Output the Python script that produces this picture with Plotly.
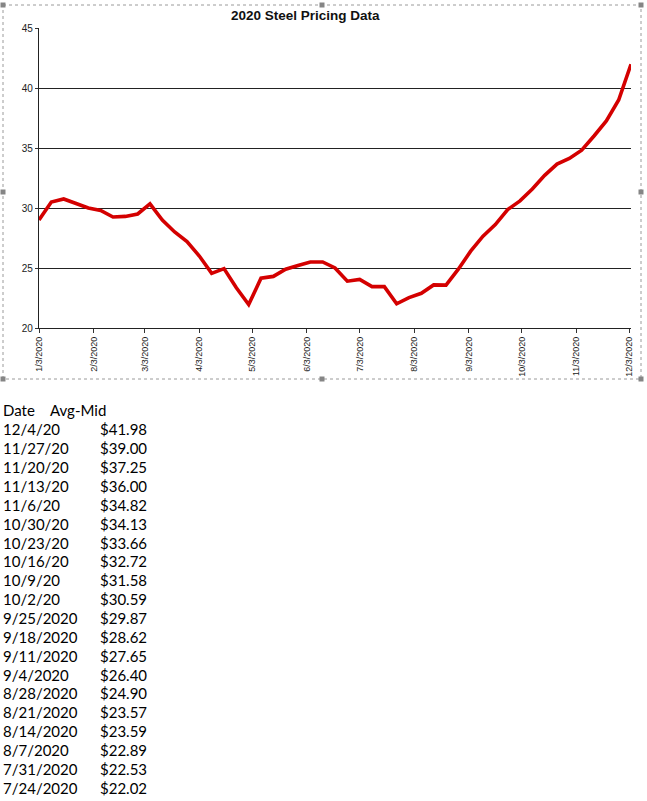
import pandas as pd
import plotly.graph_objs as go

# weekly average mid price, fridays from 1/3/2020 to 12/4/2020
prices = [29.0, 30.5, 30.75, 30.4, 30.0, 29.8, 29.25, 29.3, 29.5, 30.35,
          29.0, 28.0, 27.2, 26.0, 24.55, 24.95, 23.35, 21.95, 24.15, 24.3,
          24.9, 25.2, 25.5, 25.5, 25.0, 23.9, 24.05, 23.45, 23.45, 22.02,
          22.53, 22.89, 23.59, 23.57, 24.90, 26.40, 27.65, 28.62, 29.87, 30.59,
          31.58, 32.72, 33.66, 34.13, 34.82, 36.00, 37.25, 39.00, 41.98]
dates = pd.date_range("2020-01-03", periods=len(prices), freq="7D")

tick_dates = ["2020-01-03", "2020-02-03", "2020-03-03", "2020-04-03", "2020-05-03", "2020-06-03",
              "2020-07-03", "2020-08-03", "2020-09-03", "2020-10-03", "2020-11-03", "2020-12-03"]
tick_labels = ["1/3/2020", "2/3/2020", "3/3/2020", "4/3/2020", "5/3/2020", "6/3/2020",
               "7/3/2020", "8/3/2020", "9/3/2020", "10/3/2020", "11/3/2020", "12/3/2020"]

# the pasted table under the chart (newest first)
table_dates = ["12/4/20", "11/27/20", "11/20/20", "11/13/20", "11/6/20", "10/30/20",
               "10/23/20", "10/16/20", "10/9/20", "10/2/20", "9/25/2020", "9/18/2020",
               "9/11/2020", "9/4/2020", "8/28/2020", "8/21/2020", "8/14/2020", "8/7/2020",
               "7/31/2020", "7/24/2020"]
table_values = prices[::-1][:len(table_dates)]

W, H = 647, 801
L, R, T, B = 39, 631, 28, 328


def px(x):
    return (x - L) / (R - L)


def py(y):
    return (B - y) / (B - T)


def text_at(text, x, y, font, xanchor='left'):
    return dict(text=text, x=px(x), y=py(y), xref='paper', yref='paper',
                xanchor=xanchor, yanchor='middle', showarrow=False, font=font)


fig = go.Figure()
fig.add_scatter(x=dates, y=prices, mode='lines',
                line=dict(color='#d40000', width=3.6), hoverinfo='x+y')

fig.update_layout(
    width=W, height=H,
    margin=dict(l=L, r=W - R, t=T, b=H - B),
    paper_bgcolor='white', plot_bgcolor='white',
    showlegend=False,
    font=dict(family='Liberation Sans, Arial, sans-serif', color='#222'),
)
fig.update_xaxes(type='date', range=['2020-01-03', '2020-12-04'],
                 tickvals=tick_dates, ticktext=tick_labels, tickangle=-90,
                 tickfont=dict(size=9), ticks='outside', ticklen=4, tickcolor='#333',
                 showgrid=False, showline=True, linecolor='#222', linewidth=1.3,
                 zeroline=False)
fig.update_yaxes(range=[20, 45], dtick=5, tickfont=dict(size=10),
                 ticks='outside', ticklen=3, tickcolor='#333',
                 showgrid=True, gridcolor='#222', gridwidth=1.2,
                 showline=True, linecolor='#222', linewidth=1.3, zeroline=False)

shapes = []
# dotted selection frame with its handles
x0, y0, x1, y1 = 3, 5, 641, 379
shapes.append(dict(type='rect', xref='paper', yref='paper',
                   x0=px(x0), y0=py(y0), x1=px(x1), y1=py(y1),
                   line=dict(color='#9a9a9a', width=1, dash='dot'), layer='below'))
xm, ym = (x0 + x1) / 2, (y0 + y1) / 2
for hx, hy in [(x0, y0), (xm, y0), (x1, y0), (x0, ym), (x1, ym), (x0, y1), (xm, y1), (x1, y1)]:
    shapes.append(dict(type='rect', xref='paper', yref='paper',
                       x0=px(hx - 2.5), y0=py(hy - 2.5), x1=px(hx + 2.5), y1=py(hy + 2.5),
                       line=dict(width=0), fillcolor='#858585'))
fig.update_layout(shapes=shapes)

annotations = [text_at('<b>2020 Steel Pricing Data</b>', 305.5, 16,
                       dict(size=13.5, color='#111'), xanchor='center')]

table_font = dict(family='Lato, Open Sans, sans-serif', size=15, color='#000')
row0, step = 429.3, 18.87
annotations.append(text_at('Date', 1, 410, table_font))
annotations.append(text_at('Avg-Mid', 48, 410, table_font))
for i, (d, v) in enumerate(zip(table_dates, table_values)):
    yy = row0 + i * step
    annotations.append(text_at(d, 1, yy, table_font))
    annotations.append(text_at('$%.2f' % v, 98, yy, table_font))
fig.update_layout(annotations=annotations)

# page body has a default 8px margin, drop it so the figure sits at 0,0
fig.write_html("out.html", config={'displayModeBar': False},
               post_script="document.body.style.margin='0px';")
